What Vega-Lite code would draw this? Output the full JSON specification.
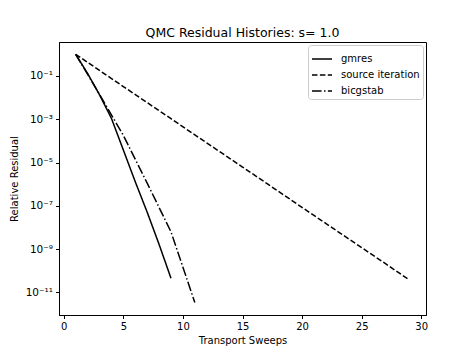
{
  "$schema": "https://vega.github.io/schema/vega-lite/v6.json",
  "width": 367,
  "height": 273,
  "autosize": {"type": "none"},
  "padding": {"left": 59, "top": 42, "right": 48, "bottom": 40},
  "background": "white",
  "title": {"text": "QMC Residual Histories: s= 1.0", "fontSize": 12.5, "font": "DejaVu Sans", "fontWeight": "normal", "color": "black", "offset": 3},
  "data": {"values": [
    {"x": 1, "r": 1, "series": "gmres"},
    {"x": 2, "r": 0.13, "series": "gmres"},
    {"x": 3, "r": 0.0135, "series": "gmres"},
    {"x": 4, "r": 0.0011, "series": "gmres"},
    {"x": 5, "r": 3.8e-5, "series": "gmres"},
    {"x": 6, "r": 1.3e-6, "series": "gmres"},
    {"x": 7, "r": 5.1e-8, "series": "gmres"},
    {"x": 8, "r": 1.66e-9, "series": "gmres"},
    {"x": 9, "r": 4.5e-11, "series": "gmres"},
    {"x": 1, "r": 1, "series": "source iteration"},
    {"x": 3, "r": 0.18, "series": "source iteration"},
    {"x": 5, "r": 0.0325, "series": "source iteration"},
    {"x": 7, "r": 0.00586, "series": "source iteration"},
    {"x": 9, "r": 0.00106, "series": "source iteration"},
    {"x": 11, "r": 1.9e-4, "series": "source iteration"},
    {"x": 13, "r": 3.44e-5, "series": "source iteration"},
    {"x": 15, "r": 6.2e-6, "series": "source iteration"},
    {"x": 17, "r": 1.12e-6, "series": "source iteration"},
    {"x": 19, "r": 2.0e-7, "series": "source iteration"},
    {"x": 21, "r": 3.6e-8, "series": "source iteration"},
    {"x": 23, "r": 6.5e-9, "series": "source iteration"},
    {"x": 25, "r": 1.18e-9, "series": "source iteration"},
    {"x": 27, "r": 2.13e-10, "series": "source iteration"},
    {"x": 29, "r": 3.8e-11, "series": "source iteration"},
    {"x": 1, "r": 1, "series": "bicgstab"},
    {"x": 3, "r": 0.0141, "series": "bicgstab"},
    {"x": 5, "r": 1.8e-4, "series": "bicgstab"},
    {"x": 7, "r": 1.12e-6, "series": "bicgstab"},
    {"x": 9, "r": 6.3e-9, "series": "bicgstab"},
    {"x": 11, "r": 3.4e-12, "series": "bicgstab"}
  ]},
  "mark": {"type": "line", "strokeWidth": 1.5, "color": "black", "clip": true},
  "encoding": {
    "x": {
      "field": "x", "type": "quantitative",
      "scale": {"domain": [-0.4, 30.4], "nice": false, "zero": false},
      "axis": {"values": [0, 5, 10, 15, 20, 25, 30], "title": "Transport Sweeps", "grid": false}
    },
    "y": {
      "field": "r", "type": "quantitative",
      "scale": {"type": "log", "domain": [9.1e-13, 3.7], "nice": false},
      "axis": {
        "values": [0.1, 0.001, 0.00001, 1e-7, 1e-9, 1e-11],
        "labelExpr": "datum.value > 0.01 ? '10⁻¹' : datum.value > 0.0001 ? '10⁻³' : datum.value > 0.000001 ? '10⁻⁵' : datum.value > 1e-8 ? '10⁻⁷' : datum.value > 1e-10 ? '10⁻⁹' : '10⁻¹¹'",
        "title": "Relative Residual", "grid": false, "labelFontSize": 10.5, "titlePadding": 6
      }
    },
    "strokeDash": {
      "field": "series", "type": "nominal",
      "scale": {"domain": ["gmres", "source iteration", "bicgstab"], "range": [[1, 0], [5.5, 2.4], [9.6, 2.4, 1.5, 2.4]]},
      "legend": {
        "title": null, "orient": "top-right", "offset": 3,
        "symbolType": "stroke", "symbolSize": 400, "symbolStrokeWidth": 1.5, "symbolStrokeColor": "black",
        "labelFontSize": 10, "labelFont": "DejaVu Sans", "labelColor": "black", "labelOffset": 8,
        "fillColor": "white", "strokeColor": "#cccccc", "cornerRadius": 3, "padding": 3, "rowPadding": -3.5
      }
    }
  },
  "config": {
    "view": {"stroke": "black", "strokeWidth": 1},
    "axis": {
      "domainColor": "black", "tickColor": "black", "tickSize": 3.5,
      "labelFont": "DejaVu Sans", "labelFontSize": 10, "labelColor": "black",
      "titleFont": "DejaVu Sans", "titleFontSize": 10, "titleFontWeight": "normal", "titleColor": "black",
      "labelPadding": 3, "titlePadding": 4
    }
  }
}
